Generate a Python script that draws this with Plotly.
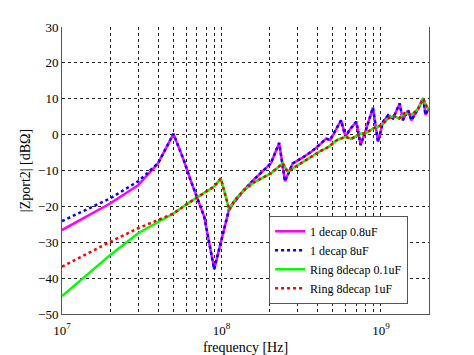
import numpy as np
import plotly.graph_objects as go

# ---- data ----
freq_m = [1e7, 2e7, 3e7, 4e7, 5e7, 5.8e7, 6.4e7, 7.8e7, 9e7, 1.0e8, 1.09e8, 1.12e8,
          1.38e8, 1.6e8, 2.04e8, 2.3e8, 2.5e8, 2.8e8, 3.2e8, 3.65e8, 4.2e8, 4.53e8,
          4.8e8, 5.62e8, 5.99e8, 6.4e8, 7.0e8, 7.45e8, 8.0e8, 8.9e8, 9.58e8, 1.03e9,
          1.11e9, 1.19e9, 1.31e9, 1.37e9, 1.48e9, 1.55e9, 1.7e9, 1.84e9, 1.9e9, 2.0e9]
mag_08uF = [-26.6, -19.2, -14.1, -8.0, 0.2, -7.1, -12.7, -22.9, -37.5, -29.0, -22.0, -20.5,
            -15.5, -12.5, -8.0, -2.3, -13.0, -8.0, -6.5, -4.8, -2.5, -1.1,
            -1.5, 4.0, -0.6, 1.5, 3.6, -2.9, 1.0, 7.5, -2.0, 3.6,
            5.4, 4.5, 8.7, 4.0, 6.8, 4.0, 7.0, 10.2, 5.5, 7.5]
mag_8uF = [-24.1, -17.8, -13.0, -8.0, 0.2, -7.1, -12.7, -22.9, -37.5, -29.0, -22.0, -20.5,
           -15.5, -12.5, -8.0, -2.3, -13.0, -8.0, -6.5, -4.8, -2.5, -1.1,
           -1.5, 4.0, -0.6, 1.5, 3.6, -2.9, 1.0, 7.5, -2.0, 3.6,
           5.4, 4.5, 8.7, 4.0, 6.8, 4.0, 7.0, 10.2, 5.5, 7.5]

freq_r = [1e7, 2e7, 3e7, 4e7, 5e7, 6e7, 7e7, 8e7, 9e7, 9.9e7, 1.12e8, 1.2e8, 1.38e8,
          1.6e8, 2.04e8, 2.42e8, 2.6e8, 3.0e8, 3.65e8, 4.2e8, 4.7e8, 5.3e8, 6.0e8,
          6.5e8, 7.45e8, 8.0e8, 9.0e8, 9.58e8, 1.03e9, 1.11e9, 1.2e9, 1.3e9, 1.4e9,
          1.55e9, 1.7e9, 1.84e9, 1.95e9, 2.0e9]
ring_01uF = [-45.0, -33.6, -27.5, -24.3, -22.0, -19.5, -17.7, -15.9, -14.5, -12.2, -21.0, -18.5, -15.5,
             -13.3, -10.8, -8.0, -10.3, -8.5, -6.2, -4.5, -3.4, -1.5, -0.6,
             -1.2, 0.3, 0.4, 1.8, 2.2, 3.0, 4.5, 5.2, 4.5, 6.0,
             5.5, 7.0, 10.0, 7.5, 7.3]
ring_1uF = [-36.8, -29.9, -26.1, -23.8, -22.0, -19.5, -17.7, -15.9, -14.5, -12.2, -21.0, -18.5, -15.5,
            -13.3, -10.8, -8.0, -10.3, -8.5, -6.2, -4.5, -3.4, -1.5, -0.6,
            -1.2, 0.3, 0.4, 1.8, 2.2, 3.0, 4.5, 5.2, 4.5, 6.0,
            5.5, 7.0, 10.0, 7.5, 7.3]

series_names = ["1 decap 0.8uF", "1 decap 8uF", "Ring 8decap 0.1uF", "Ring 8decap 1uF"]
y_ticks = [-50, -40, -30, -20, -10, 0, 10, 20, 30]

# x grid positions: 1..9 x each decade up to 2e9
x_grid = [m * 10 ** e for e in (7, 8) for m in range(1, 10)] + [1e9, 2e9]
x_text = ["10<sup>7</sup>" if v == 1e7 else "10<sup>8</sup>" if v == 1e8 else
          "10<sup>9</sup>" if v == 1e9 else "" for v in x_grid]

FONT = "Liberation Serif, Times New Roman, serif"

fig = go.Figure()
fig.add_trace(go.Scatter(x=freq_m, y=mag_08uF, name=series_names[0], mode="lines",
                         line=dict(color="#ff00ff", width=2.5)))
fig.add_trace(go.Scatter(x=freq_m, y=mag_8uF, name=series_names[1], mode="lines",
                         line=dict(color="#0000ff", width=2.5, dash="dot")))
fig.add_trace(go.Scatter(x=freq_r, y=ring_01uF, name=series_names[2], mode="lines",
                         line=dict(color="#00ff00", width=2.5)))
fig.add_trace(go.Scatter(x=freq_r, y=ring_1uF, name=series_names[3], mode="lines",
                         line=dict(color="#ff0000", width=2.5, dash="dot")))

fig.update_layout(
    width=466, height=347,
    margin=dict(l=54, r=45, t=19, b=41),
    paper_bgcolor="white", plot_bgcolor="white",
    font=dict(family=FONT, size=13, color="black"),
    legend=dict(x=0.943, y=0.342, xanchor="right", yanchor="top",
                bgcolor="white", bordercolor="#555", borderwidth=1,
                font=dict(family=FONT, size=12), tracegroupgap=0,
                itemwidth=30),
    showlegend=True,
)
fig.update_xaxes(type="log", range=[7, np.log10(2e9)], automargin=False,
                 tickvals=x_grid, ticktext=x_text, ticks="",
                 showgrid=True, gridcolor="#222", griddash="dot", gridwidth=1,
                 showline=True, linecolor="#555", linewidth=1, mirror=False,
                 zeroline=False, ticklabelstandoff=4,
                 title=dict(text="frequency [Hz]", font=dict(family=FONT, size=14), standoff=6),
                 tickfont=dict(family=FONT, size=13))
fig.update_yaxes(range=[-50, 30], tickvals=y_ticks, ticks="", automargin=False,
                 showgrid=True, gridcolor="#222", griddash="dot", gridwidth=1,
                 showline=True, linecolor="#555", linewidth=1, mirror=True,
                 zeroline=False, ticklabelstandoff=0,
                 title=dict(text="|Zport2| [dBΩ]", font=dict(family=FONT, size=14), standoff=4),
                 tickfont=dict(family=FONT, size=13))

fig.write_html("out.html")
